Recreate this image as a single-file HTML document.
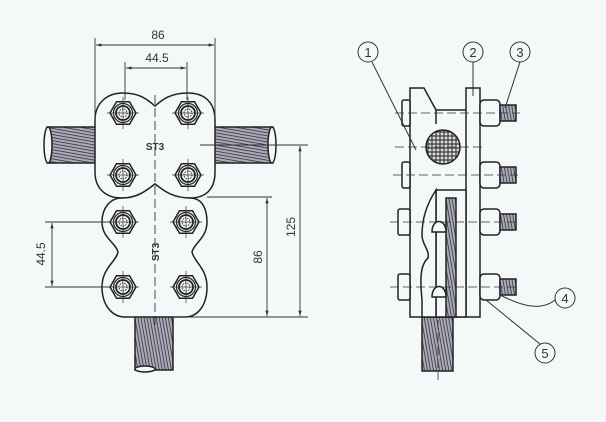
<!DOCTYPE html>
<html><head><style>
html,body{margin:0;padding:0;background:#f4f8f9;}
svg{display:block;}
text{font-family:"Liberation Sans",sans-serif;fill:#333;}
</style></head><body>
<svg width="606" height="422" viewBox="0 0 606 422" xmlns="http://www.w3.org/2000/svg">
<defs>
<pattern id="hatch" width="3" height="3" patternUnits="userSpaceOnUse" patternTransform="rotate(10)">
<rect width="3" height="3" fill="#aab"/><line x1="0" y1="0" x2="3" y2="0" stroke="#222" stroke-width="1.4"/></pattern>
<pattern id="vhatch" width="3" height="3" patternUnits="userSpaceOnUse" patternTransform="rotate(80)">
<rect width="3" height="3" fill="#aab"/><line x1="0" y1="0" x2="3" y2="0" stroke="#222" stroke-width="1.4"/></pattern>
<pattern id="dots" width="4" height="4" patternUnits="userSpaceOnUse">
<rect width="4" height="4" fill="#555"/><circle cx="2" cy="2" r="1.4" fill="#ddd"/></pattern>
<marker id="ar" viewBox="0 0 10 10" refX="10" refY="5" markerWidth="6" markerHeight="6" orient="auto-start-reverse"><path d="M0,2 L10,5 L0,8 z" fill="#333"/></marker>
<g id="bolt">
<polygon points="13,0 6.5,11.3 -6.5,11.3 -13,0 -6.5,-11.3 6.5,-11.3" fill="#f4f8f9" stroke="#222" stroke-width="1.5"/>
<circle r="9.5" fill="none" stroke="#222" stroke-width="1.2"/>
<circle r="7" fill="none" stroke="#222" stroke-width="1.8"/>
<circle r="4" fill="none" stroke="#222" stroke-width="0.9" stroke-dasharray="1.5 1"/>
<line x1="-16" y1="0" x2="16" y2="0" stroke="#333" stroke-width="0.7"/>
<line x1="0" y1="-16" x2="0" y2="16" stroke="#333" stroke-width="0.7"/>
</g>
</defs>
<g stroke="#222" fill="none" stroke-width="1.5">
<rect x="47" y="127" width="50" height="36" fill="url(#hatch)"/>
<rect x="213" y="127" width="60" height="36" fill="url(#hatch)"/>
<ellipse cx="48" cy="145" rx="4" ry="18" fill="#f4f8f9"/>
<ellipse cx="272" cy="145" rx="4" ry="18" fill="#f4f8f9"/>
<rect x="135" y="314" width="38" height="56" fill="url(#vhatch)"/>
<ellipse cx="145" cy="369" rx="10" ry="3" fill="#f4f8f9"/>
<path d="M123,93 C140,93 148,100 155,106 C162,100 170,93 188,93 C206,93 215,104 215,120 L215,172 C215,190 205,198 190,198 C172,198 163,190 155,184 C147,190 138,198 122,198 C105,198 95,188 95,172 L95,120 C95,104 106,93 123,93 Z" fill="#f4f8f9"/>
<path d="M122,198 C138,198 147,190 155,184 C163,190 172,198 190,198 C203,198 207,210 207,222 C207,238 194,243 192,252 C194,262 207,268 207,287 C207,305 198,317 185,317 L125,317 C112,317 102,305 102,287 C102,268 116,262 118,252 C116,243 102,238 102,222 C102,208 110,198 122,198 Z" fill="#f4f8f9"/>
<line x1="155" y1="95" x2="155" y2="330" stroke-width="0.8" stroke-dasharray="9 4"/>
</g>
<use href="#bolt" x="123" y="113"/><use href="#bolt" x="188" y="113"/>
<use href="#bolt" x="123" y="175"/><use href="#bolt" x="188" y="175"/>
<use href="#bolt" x="123" y="222"/><use href="#bolt" x="186" y="222"/>
<use href="#bolt" x="123" y="287"/><use href="#bolt" x="186" y="287"/>
<text x="155" y="150" font-size="10" font-weight="bold" text-anchor="middle">ST3</text>
<text x="0" y="0" font-size="10" font-weight="bold" text-anchor="middle" transform="translate(159,252) rotate(-90)">ST3</text>
<g stroke="#333" stroke-width="0.9" fill="none">
<line x1="95" y1="38" x2="95" y2="120"/><line x1="215" y1="38" x2="215" y2="120"/>
<line x1="96" y1="45" x2="214" y2="45" marker-start="url(#ar)" marker-end="url(#ar)"/>
<line x1="125" y1="62" x2="125" y2="100"/><line x1="187" y1="62" x2="187" y2="100"/>
<line x1="126" y1="68" x2="186" y2="68" marker-start="url(#ar)" marker-end="url(#ar)"/>
<line x1="45" y1="222" x2="110" y2="222"/><line x1="45" y1="287" x2="110" y2="287"/>
<line x1="52" y1="223" x2="52" y2="286" marker-start="url(#ar)" marker-end="url(#ar)"/>
<line x1="207" y1="197" x2="272" y2="197"/>
<line x1="200" y1="145" x2="308" y2="145"/>
<line x1="173" y1="317" x2="308" y2="317"/>
<line x1="267" y1="198" x2="267" y2="316" marker-start="url(#ar)" marker-end="url(#ar)"/>
<line x1="300" y1="146" x2="300" y2="316" marker-start="url(#ar)" marker-end="url(#ar)"/>
</g>
<text x="158" y="39" font-size="12" text-anchor="middle">86</text>
<text x="157" y="62" font-size="12" text-anchor="middle">44.5</text>
<text font-size="12" text-anchor="middle" transform="translate(45,254) rotate(-90)">44.5</text>
<text font-size="12" text-anchor="middle" transform="translate(262,257) rotate(-90)">86</text>
<text font-size="12" text-anchor="middle" transform="translate(295,227) rotate(-90)">125</text>
<!-- side view -->
<g stroke="#222" stroke-width="1.5" fill="#f4f8f9">
<rect x="422" y="317" width="31" height="54" fill="url(#vhatch)"/>
<path d="M410,88 L424,88 L436,110 L466,110 L466,88 L480,88 L480,317 L410,317 Z"/>
<line x1="436" y1="110" x2="436" y2="124"/>
<line x1="466" y1="110" x2="466" y2="317"/>
<rect x="436" y="190" width="30" height="127" fill="#f4f8f9"/>
<path d="M436,190 C426,205 422,220 422,235 C422,245 430,250 428,258 C420,265 420,280 422,300 L422,317 L436,317 Z"/>
<rect x="446" y="198" width="10" height="119" fill="url(#vhatch)"/>
<circle cx="443" cy="147" r="17" fill="url(#dots)"/>
<rect x="402" y="100" width="8" height="26" rx="2"/><rect x="402" y="162" width="8" height="26" rx="2"/>
<rect x="398" y="209" width="12" height="26" rx="2"/><rect x="398" y="274" width="12" height="26" rx="2"/>
<path d="M432,232 C432,218 446,218 446,232 Z"/><path d="M432,297 C432,283 446,283 446,297 Z"/>
<rect x="480" y="100" width="20" height="26" rx="4"/><rect x="480" y="162" width="20" height="26" rx="4"/>
<rect x="480" y="209" width="20" height="26" rx="4"/><rect x="480" y="274" width="20" height="26" rx="4"/>
<rect x="500" y="105" width="16" height="16" fill="url(#vhatch)"/><rect x="500" y="167" width="16" height="16" fill="url(#vhatch)"/>
<rect x="500" y="214" width="16" height="16" fill="url(#vhatch)"/><rect x="500" y="279" width="16" height="16" fill="url(#vhatch)"/>
</g>
<g stroke="#333" stroke-width="0.8" stroke-dasharray="9 4">
<line x1="395" y1="113" x2="520" y2="113"/><line x1="395" y1="147" x2="485" y2="147"/>
<line x1="393" y1="175" x2="518" y2="175"/><line x1="390" y1="222" x2="518" y2="222"/>
<line x1="390" y1="287" x2="520" y2="287"/><line x1="438" y1="320" x2="438" y2="380"/>
</g>
<g stroke="#333" stroke-width="1" fill="none">
<circle cx="368" cy="52" r="10"/><circle cx="473" cy="52" r="10"/><circle cx="520" cy="52" r="10"/>
<circle cx="565" cy="298" r="10"/><circle cx="545" cy="353" r="10"/>
<line x1="372" y1="62" x2="416" y2="150"/>
<line x1="473" y1="62" x2="473" y2="96"/>
<line x1="520" y1="62" x2="505" y2="108"/>
<path d="M555,300 C540,312 520,305 500,295"/>
<line x1="540" y1="344" x2="486" y2="300"/>
</g>
<text x="368" y="57" font-size="13" text-anchor="middle">1</text>
<text x="473" y="57" font-size="13" text-anchor="middle">2</text>
<text x="520" y="57" font-size="13" text-anchor="middle">3</text>
<text x="565" y="303" font-size="13" text-anchor="middle">4</text>
<text x="545" y="358" font-size="13" text-anchor="middle">5</text>
</svg>
</body></html>
